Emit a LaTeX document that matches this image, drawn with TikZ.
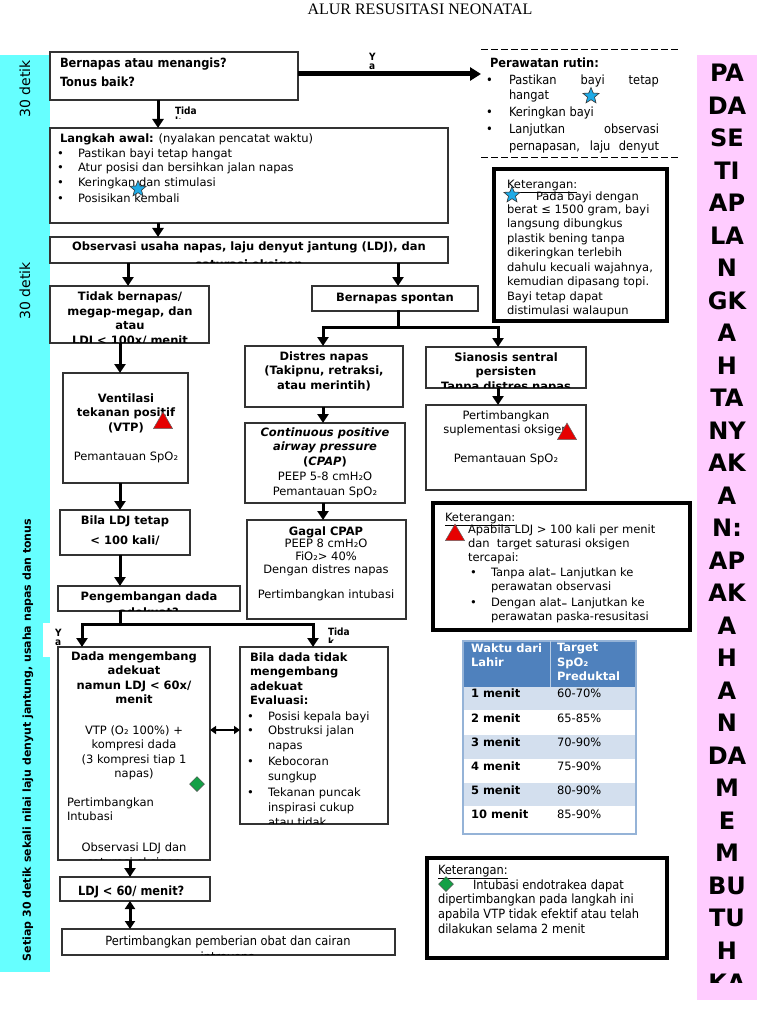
\documentclass[tikz,border=0pt]{standalone}
\usepackage{fontspec}
\setmainfont{DejaVu Sans}
\newfontfamily\cond{DejaVu Sans Condensed}
\newfontfamily\tnr{Liberation Serif}
\usetikzlibrary{arrows.meta,shapes.geometric}
\definecolor{cyanband}{RGB}{102,255,255}
\definecolor{pinkband}{RGB}{255,204,255}
\definecolor{starblue}{RGB}{30,170,230}
\definecolor{trired}{RGB}{230,0,0}
\definecolor{dgreen}{RGB}{20,160,70}
\definecolor{thead}{RGB}{79,129,189}
\definecolor{tlight}{RGB}{211,223,238}
\definecolor{tborder}{RGB}{149,179,215}
\newcommand\fr{\fontsize{11.5}{14.5}\selectfont}
\newcommand\fc{\cond\fontsize{12.7}{15}\selectfont}
\newcommand\bul[1]{\makebox[#1][l]{•}}
\tikzset{
  box/.style={draw=black!80, line width=1.3pt, fill=white, anchor=north west, inner sep=0pt, outer sep=0pt},
  ketbox/.style={draw=black, line width=3.5pt, fill=white, anchor=north west, inner sep=0pt, outer sep=0pt},
  arr/.style={line width=3pt, -{Triangle[length=9pt,width=11pt]}},
  dblarr/.style={line width=3pt, {Triangle[length=8pt,width=10pt]}-{Triangle[length=8pt,width=10pt]}},
  conn/.style={line width=3pt, line cap=rect},
  tl/.style={anchor=north west, inner sep=0pt, outer sep=0pt, yshift=-2.5pt, align=left, font=\fr, execute at begin node=\strut},
  tc/.style={anchor=north, inner sep=0pt, outer sep=0pt, yshift=-2.5pt, align=center, font=\fr, execute at begin node=\strut},
  lbl/.style={anchor=north west, inner sep=0pt, outer sep=0pt, align=left, font=\cond\bfseries\fontsize{10}{9.5}\selectfont},
  starmark/.style={star, star points=5, star point ratio=2.3, fill=starblue, draw=black!80, line width=0.6pt, minimum size=17pt, inner sep=0pt},
  trimark/.style={regular polygon, regular polygon sides=3, fill=trired, draw=black!60, line width=0.5pt, minimum size=22pt, inner sep=0pt},
  diamark/.style={diamond, fill=dgreen, draw=black!70, line width=0.5pt, minimum size=15pt, inner sep=0pt},
}
\begin{document}
\begin{tikzpicture}[x=1pt,y=-1pt]
\useasboundingbox (0,0) rectangle (768,1024);
\fill[white] (0,0) rectangle (768,1024);
% title
\node[font=\tnr\fontsize{16}{18}\selectfont, inner sep=0pt] (title) at (420,9.5) {ALUR RESUSITASI NEONATAL};
% side bands
\fill[cyanband] (0,55) rectangle (50,972);
\fill[pinkband] (697,55) rectangle (757,1000);
\node[rotate=90, font=\fontsize{14}{16}\selectfont, inner sep=0pt] (d1) at (25,89) {30 detik};
\node[rotate=90, font=\fontsize{14}{16}\selectfont, inner sep=0pt] (d2) at (25,291) {30 detik};
\node[rotate=90, font=\bfseries\fontsize{11}{12}\selectfont, inner sep=0pt] (d3) at (28,740) {Setiap 30 detik sekali nilai laju denyut jantung, usaha napas dan tonus};
\begin{scope}
\clip (697,55) rectangle (757,982);
\foreach \w [count=\i from 0] in {PA,DA,SE,TI,AP,LA,N,GK,A,H,TA,NY,AK,A,N:,AP,AK,A,H,A,N,DA,M,E,M,BU,TU,H,KA}
  \node[font=\bfseries\fontsize{24}{24}\selectfont, inner sep=0pt] (pk\i) at (727,73+32.5*\i) {\w};
\end{scope}
% white patch behind lower Ya label
\node[fill=white, anchor=north west, minimum width=27, minimum height=34, inner sep=0pt] (yabg) at (43,623) {};
% boxes
\node[box, minimum width=248, minimum height=48] (A) at (50,52) {};
\node[anchor=north west, minimum width=199, minimum height=107, inner sep=0pt] (PR) at (481,50) {};
\node[box, minimum width=398, minimum height=95] (B) at (50,128) {};
\node[box, minimum width=398, minimum height=26] (C) at (50,237) {};
\node[box, minimum width=159, minimum height=57] (D) at (50,286) {};
\node[box, minimum width=166, minimum height=25] (E) at (312,286) {};
\node[box, minimum width=158, minimum height=61] (F) at (245,346) {};
\node[box, minimum width=160, minimum height=41] (G) at (426,347) {};
\node[box, minimum width=160, minimum height=85] (H) at (426,405) {};
\node[box, minimum width=125, minimum height=110] (I) at (63,373) {};
\node[box, minimum width=160, minimum height=80] (J) at (245,423) {};
\node[box, minimum width=159, minimum height=99] (K) at (247,520) {};
\node[box, minimum width=130, minimum height=45] (L) at (60,510) {};
\node[box, minimum width=182, minimum height=25] (M) at (58,586) {};
\node[box, minimum width=152, minimum height=213] (N) at (58,647) {};
\node[box, minimum width=148, minimum height=177] (O) at (240,647) {};
\node[box, minimum width=150, minimum height=24] (P) at (60,877) {};
\node[box, minimum width=333, minimum height=26] (Q) at (62,929) {};
\node[ketbox, minimum width=173, minimum height=152] (K1) at (494,169) {};
\node[ketbox, minimum width=257, minimum height=127] (K2) at (433,503) {};
\node[ketbox, minimum width=240, minimum height=100] (K3) at (427,858) {};
% perawatan rutin dashed borders
\draw[line width=1pt, dash pattern=on 7pt off 3pt] (PR.north west) -- (PR.north east);
\draw[line width=1pt, dash pattern=on 7pt off 3pt] (PR.south west) -- (PR.south east);
% texts A
\node[tl, font=\fc\bfseries] (At) at (60,55) {Bernapas atau menangis?\\[4pt]Tonus baik?};
% perawatan rutin
\node[tl, font=\fc\bfseries] (PRh) at (490,55) {Perawatan rutin:};
\node[tl, font=\fc] (PR1) at (486,72) {\bul{23pt}\makebox[150pt][s]{Pastikan bayi tetap}\\\hspace*{23pt}hangat\\[2.5pt]\bul{23pt}Keringkan bayi\\[2pt]\bul{23pt}\makebox[150pt][s]{Lanjutkan observasi}\\[2pt]\hspace*{23pt}\makebox[150pt][s]{pernapasan, laju denyut}};
\node[starmark] (PRs) at (591,96) {};
% B
\node[tl] (Bt) at (60,130) {\textbf{Langkah awal:} (nyalakan pencatat waktu)};
\node[tl, font=\fontsize{11.5}{14.5}\selectfont] (Bi) at (57,146) {\bul{21pt}Pastikan bayi tetap hangat\\\bul{21pt}Atur posisi dan bersihkan jalan napas\\\bul{21pt}Keringkan dan stimulasi\\[2pt]\bul{21pt}Posisikan kembali};
\node[starmark] (Bs) at (138,189) {};
% C
\begin{scope}
\clip ([shift={(1,1)}]C.north west) rectangle ([shift={(-1,-1)}]C.south east);
\node[tc, font=\fontsize{11.5}{18.5}\selectfont\bfseries] (Ct) at (249,239) {Observasi usaha napas, laju denyut jantung (LDJ), dan\\saturasi oksigen};
\end{scope}
% D
\begin{scope}
\clip ([shift={(1,1)}]D.north west) rectangle ([shift={(-1,-1)}]D.south east);
\node[tc, font=\fontsize{11.5}{14.5}\selectfont\bfseries] (Dt) at (130,289.5) {Tidak bernapas/\\megap-megap, dan\\atau\\LDJ < 100x/ menit};
\end{scope}
% E
\node[tc, font=\fr\bfseries] (Et) at (395,289) {Bernapas spontan};
% F
\node[tc, font=\fr\bfseries] (Ft) at (324,349) {Distres napas\\(Takipnu, retraksi,\\atau merintih)};
% G
\begin{scope}
\clip ([shift={(1,1)}]G.north west) rectangle ([shift={(-1,-1)}]G.south east);
\node[tc, font=\fontsize{11.5}{14}\selectfont\bfseries] (Gt) at (506,350) {Sianosis sentral\\persisten\\[1pt]Tanpa distres napas};
\end{scope}
% H
\node[tc] (Ht) at (506,408) {Pertimbangkan\\suplementasi oksigen\\[14.5pt]Pemantauan SpO₂};
\node[trimark] (Hm) at (567,434) {};
% I
\node[tc, font=\fr\bfseries] (It) at (126,391) {Ventilasi\\tekanan positif\\(VTP)\\[15pt]{\mdseries Pemantauan SpO₂}};
\node[trimark] (Im) at (163,423) {};
% J
\node[tc, font=\fontsize{11.5}{14.75}\selectfont] (Jt) at (325,425) {\textbf{\textit{Continuous positive}}\\\textbf{\textit{airway pressure}}\\\textbf{(\textit{CPAP})}\\PEEP 5-8 cmH₂O\\Pemantauan SpO₂};
% K
\node[tc, font=\fontsize{11.5}{12.7}\selectfont] (Kt) at (326,524) {\textbf{Gagal CPAP}\\PEEP 8 cmH₂O\\FiO₂> 40\%\\Dengan distres napas\\[12.3pt]Pertimbangkan intubasi};
% L
\node[tc, font=\fr\bfseries] (Lt) at (125,513) {Bila LDJ tetap\\[5.5pt]< 100 kali/};
% M
\begin{scope}
\clip ([shift={(1,1)}]M.north west) rectangle ([shift={(-1,-1)}]M.south east);
\node[tc, font=\fr\bfseries] (Mt) at (149,589) {Pengembangan dada\\[2pt]adekuat?};
\end{scope}
% N
\begin{scope}
\clip ([shift={(1,1)}]N.north west) rectangle ([shift={(-1,-1)}]N.south east);
\node[tc, font=\fr\bfseries] (Nt1) at (134,649) {Dada mengembang\\adekuat\\namun LDJ < 60x/\\menit};
\node[tc] (Nt2) at (134,723) {VTP (O₂ 100\%) +\\kompresi dada\\(3 kompresi tiap 1\\napas)};
\node[tl] (Nt3) at (67,795) {Pertimbangkan\\Intubasi};
\node[tc] (Nt4) at (134,840) {Observasi LDJ dan\\[0.5pt]saturasi oksigen};
\end{scope}
\node[diamark] (Nm) at (197,784) {};
% O
\begin{scope}
\clip ([shift={(1,1)}]O.north west) rectangle ([shift={(-1,-1)}]O.south east);
\node[tl, font=\fr\bfseries] (Ot1) at (250,650) {Bila dada tidak\\mengembang\\adekuat\\Evaluasi:};
\node[tl, font=\fontsize{11.5}{14.7}\selectfont] (Ot2) at (247,709) {\bul{21pt}Posisi kepala bayi\\\bul{21pt}Obstruksi jalan\\\hspace*{21pt}napas\\[1.5pt]\bul{21pt}Kebocoran\\\hspace*{21pt}sungkup\\[1.5pt]\bul{21pt}Tekanan puncak\\\hspace*{21pt}inspirasi cukup\\\hspace*{21pt}atau tidak};
\end{scope}
% P
\node[tl, font=\fc\bfseries] (Pt) at (78,882) {LDJ < 60/ menit?};
% Q
\begin{scope}
\clip ([shift={(1,1)}]Q.north west) rectangle ([shift={(-1,-1)}]Q.south east);
\node[tc, font=\fc] (Qt) at (228,933) {Pertimbangkan pemberian obat dan cairan\\[1pt]intravena};
\end{scope}
% Keterangan 1
\node[tl] (K1h) at (507,176) {\underline{Keterangan:}};
\node[starmark] (K1s) at (512,195) {};
\node[tl] (K1a) at (536,188) {Pada bayi dengan};
\begin{scope}
\clip ([shift={(2,2)}]K1.north west) rectangle ([shift={(-2,-2)}]K1.south east);
\node[tl] (K1b) at (507,202) {berat ≤ 1500 gram, bayi\\langsung dibungkus\\plastik bening tanpa\\dikeringkan terlebih\\dahulu kecuali wajahnya,\\kemudian dipasang topi.\\Bayi tetap dapat\\distimulasi walaupun};
\end{scope}
% Keterangan 2
\node[tl] (K2h) at (445,509) {\underline{Keterangan:}};
\node[trimark] (K2m) at (455,535) {};
\node[tl, font=\fontsize{11.5}{14}\selectfont] (K2a) at (468,522) {Apabila LDJ > 100 kali per menit\\dan\ \ target saturasi oksigen\\tercapai:};
\node[tl, font=\fontsize{11.5}{14}\selectfont] (K2b) at (470,565) {\bul{21pt}Tanpa alat₌ Lanjutkan ke\\\hspace*{21pt}perawatan observasi\\[2pt]\bul{21pt}Dengan alat₌ Lanjutkan ke\\\hspace*{21pt}perawatan paska-resusitasi};
% Keterangan 3
\node[tl, font=\fc] (K3h) at (438,861) {\underline{Keterangan:}};
\node[diamark] (K3m) at (446,884) {};
\node[tl, font=\fc] (K3a) at (473,876) {Intubasi endotrakea dapat};
\node[tl, font=\fc] (K3b) at (438,891) {dipertimbangkan pada langkah ini\\apabila VTP tidak efektif atau telah\\dilakukan selama 2 menit};
% table
\foreach \ya/\yb/\c in {641/687/thead, 687/710/tlight, 710/735/white, 735/759/tlight, 759/783/white, 783/806/tlight, 806/834/white}
  \fill[\c] (463,\ya) rectangle (636,\yb);
\draw[tborder, line width=1.2pt] (463,641) rectangle (636,834);
\draw[white!60!thead, line width=0.8pt] (550,641) -- (550,687);
\node[tl, font=\fr\bfseries, text=white] (th1) at (471,641) {Waktu dari\\Lahir};
\node[tl, font=\fr\bfseries, text=white] (th2) at (557,641) {Target\\SpO₂\\Preduktal};
\foreach \t/\v/\y [count=\i] in {1 menit/60-70\%/692, 2 menit/65-85\%/717, 3 menit/70-90\%/741, 4 menit/75-90\%/765, 5 menit/80-90\%/789, 10 menit/85-90\%/813} {
  \node[tl, font=\fr\bfseries] (tr\i) at (471,\y-7) {\t};
  \node[tl] (tv\i) at (557,\y-7) {\v};
}
% labels
\node[lbl] (lyA) at (369,53) {Y\\a};
\begin{scope}
\clip (170,100) rectangle (210,119);
\node[lbl] (ltA) at (175,107) {Tida\\k};
\end{scope}
\node[lbl] (lyM) at (55,629) {Y\\a};
\begin{scope}
\clip (320,620) rectangle (370,642);
\node[lbl] (ltM) at (328,628) {Tida\\k};
\end{scope}
% connectors
\coordinate (yAP) at (0,74);
\draw[line width=5pt, -{Triangle[length=11pt,width=13pt]}] (A.east |- yAP) -- (PR.west |- yAP);
\coordinate (kAB) at (158,0);
\draw[arr] (A.south -| kAB) -- (B.north -| kAB);
\draw[arr] (B.south -| kAB) -- (C.north -| kAB);
\coordinate (kCD) at (128,0);
\draw[arr] (C.south -| kCD) -- (D.north -| kCD);
\coordinate (kCE) at (398,0);
\draw[arr] (C.south -| kCE) -- (E.north -| kCE);
\coordinate (jE) at (398,327);
\coordinate (jF) at (323,327);
\coordinate (jG) at (498,327);
\draw[conn] (E.south -| jE) -- (jE);
\draw[conn] (jF) -- (jG);
\draw[arr] (jF) -- (F.north -| jF);
\draw[arr] (jG) -- (G.north -| jG);
\draw[arr] (G.south -| jG) -- (H.north -| jG);
\draw[arr] (F.south -| jF) -- (J.north -| jF);
\draw[arr] (J.south -| jF) -- (K.north -| jF);
\coordinate (kDI) at (120,0);
\draw[arr] (D.south -| kDI) -- (I.north -| kDI);
\draw[arr] (I.south -| kDI) -- (L.north -| kDI);
\draw[arr] (L.south -| kDI) -- (M.north -| kDI);
\coordinate (jM) at (120,624);
\coordinate (jN) at (82,624);
\coordinate (jO) at (313,624);
\draw[conn] (M.south -| jM) -- (jM);
\draw[conn] (jN) -- (jO);
\draw[arr] (jN) -- (N.north -| jN);
\draw[arr] (jO) -- (O.north -| jO);
\coordinate (kNO) at (0,730);
\draw[line width=2.5pt, {Triangle[length=6pt,width=8pt]}-{Triangle[length=6pt,width=8pt]}] (N.east |- kNO) -- (O.west |- kNO);
\coordinate (kNP) at (130,0);
\draw[arr] (N.south -| kNP) -- (P.north -| kNP);
\draw[dblarr] (P.south -| kNP) -- (Q.north -| kNP);
\end{tikzpicture}
\end{document}
